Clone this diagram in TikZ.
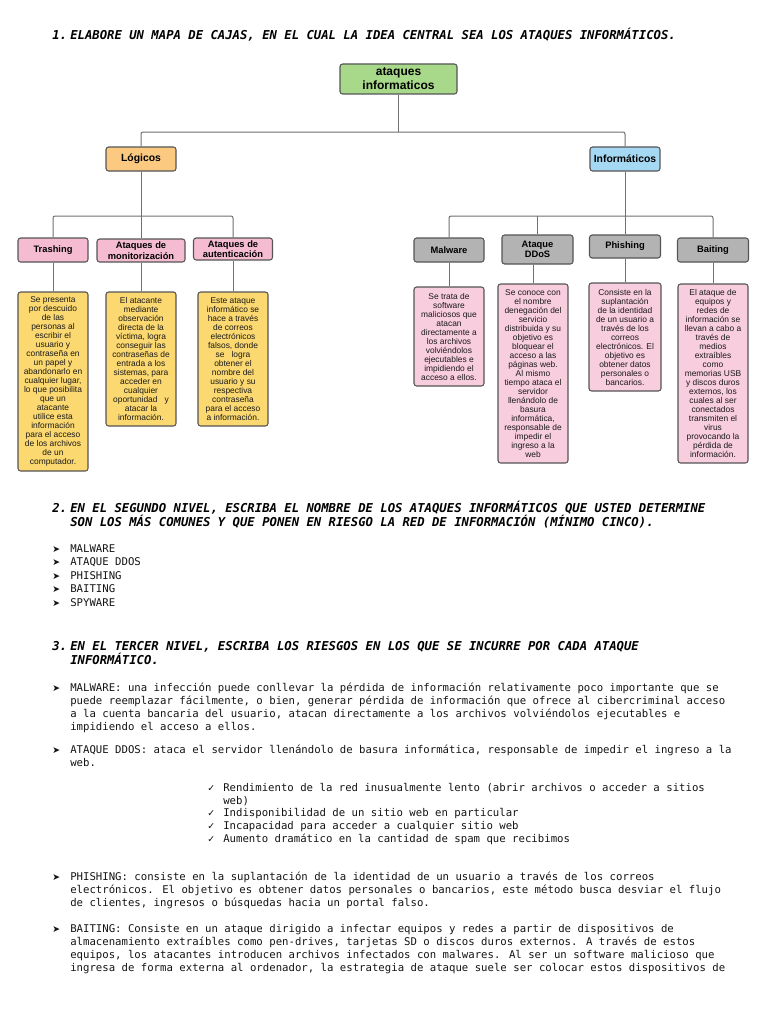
\documentclass[tikz,border=0pt]{standalone}
\usepackage{fontspec}
\newfontfamily\boxfont{Liberation Sans}
\newfontfamily\monofont{DejaVu Sans Mono}
\newfontfamily\symfont{DejaVu Sans}

\definecolor{rootgreen}{HTML}{A8D98A}
\definecolor{logorange}{HTML}{FBC97F}
\definecolor{infoblue}{HTML}{A4D8F3}
\definecolor{lvlpink}{HTML}{F5BBD0}
\definecolor{lvlgray}{HTML}{B3B3B3}
\definecolor{descyellow}{HTML}{FBD870}
\definecolor{descpink}{HTML}{F8CDDD}
\definecolor{boxline}{HTML}{555555}
\definecolor{connline}{HTML}{707070}
\definecolor{desctext}{HTML}{1A1A1A}
\definecolor{bodyink}{HTML}{141414}

\tikzset{
  box/.style={draw=boxline, line width=0.8pt, rounded corners=2pt, inner sep=0pt, align=center, text=black},
  lvlzero/.style={box, fill=rootgreen, font=\boxfont\bfseries\fontsize{9}{10.5}\selectfont},
  lvlone/.style={box, font=\boxfont\bfseries\fontsize{7.8}{9}\selectfont, minimum width=52.5pt, minimum height=18pt},
  lvltwo/.style={box, font=\boxfont\bfseries\fontsize{7}{7.8}\selectfont},
  descbox/.style={box, font=\boxfont\fontsize{6.3}{6.75}\selectfont, text=desctext, minimum width=52.5pt},
  conn/.style={draw=connline, line width=0.75pt, rounded corners=1.5pt},
  headtxt/.style={anchor=base west, inner sep=0pt, font=\monofont\bfseries\itshape\fontsize{9.2}{11}\selectfont},
  bodytxt/.style={anchor=base west, inner sep=0pt, font=\monofont\fontsize{8}{9.75}\selectfont, text=bodyink},
  bulletmark/.style={anchor=base west, inner sep=0pt, font=\symfont\fontsize{7}{9}\selectfont, text=bodyink},
}

\begin{document}
\begin{tikzpicture}[x=0.75pt, y=-0.75pt]
  \useasboundingbox[fill=white] (0,0) rectangle (768,1024);

  % question 1
  \node[headtxt] (numa) at (52,40) {1.};
  \node[headtxt] (heada) at (70,40) {ELABORE UN MAPA DE CAJAS, EN EL CUAL LA IDEA CENTRAL SEA LOS ATAQUES INFORMÁTICOS.};

  % the box map
  \node[lvlzero, minimum width=87.75pt, minimum height=22.5pt] (root) at (398.5,79) {ataques\\informaticos};
  \node[lvlone, fill=logorange] (logi) at (141,159) {Lógicos};
  \node[lvlone, fill=infoblue] (info) at (625,159) {Informáticos};

  \node[lvltwo, fill=lvlpink, minimum width=52.5pt, minimum height=18pt] (trash) at (53,250) {Trashing};
  \node[lvltwo, fill=lvlpink, minimum width=66pt, minimum height=17.25pt] (moni) at (141,250.5) {Ataques de\\monitorización};
  \node[lvltwo, fill=lvlpink, minimum width=59.25pt, minimum height=16.5pt] (auth) at (233,249) {Ataques de\\autenticación};

  \node[lvltwo, fill=lvlgray, minimum width=52.5pt, minimum height=18pt] (malw) at (449,250) {Malware};
  \node[lvltwo, fill=lvlgray, minimum width=53.25pt, minimum height=21.75pt] (ddos) at (537.5,249.5) {Ataque\\DDoS};
  \node[lvltwo, fill=lvlgray, minimum width=53.25pt, minimum height=17.25pt] (phish) at (625,246.5) {Phishing};
  \node[lvltwo, fill=lvlgray, minimum width=53.25pt, minimum height=18pt] (bait) at (713,250) {Baiting};

  \node[descbox, fill=descyellow, minimum height=134.25pt] (trd) at (53,381.5)
    {Se presenta\\por descuido\\de las\\personas al\\escribir el\\usuario y\\contraseña en\\un papel y\\abandonarlo en\\cualquier lugar,\\lo que posibilita\\que un\\atacante\\utilice esta\\información\\para el acceso\\de los archivos\\de un\\computador.};
  \node[descbox, fill=descyellow, minimum height=100.5pt] (mod) at (141,359)
    {El atacante\\mediante\\observación\\directa de la\\víctima, logra\\conseguir las\\contraseñas de\\entrada a los\\sistemas, para\\acceder en\\cualquier\\oportunidad~~~y\\atacar la\\información.};
  \node[descbox, fill=descyellow, minimum height=100.5pt] (aud) at (233,359)
    {Este ataque\\informático se\\hace a través\\de correos\\electrónicos\\falsos, donde\\se~~~logra\\obtener el\\nombre del\\usuario y su\\respectiva\\contraseña\\para el acceso\\a información.};

  \node[descbox, fill=descpink, minimum height=74.25pt] (mad) at (449,336.5)
    {Se trata de\\software\\maliciosos que\\atacan\\directamente a\\los archivos\\volviéndolos\\ejecutables e\\impidiendo el\\acceso a ellos.};
  \node[descbox, fill=descpink, minimum height=134.25pt] (ddd) at (533,373.5)
    {Se conoce con\\el nombre\\denegación del\\servicio\\distribuida y su\\objetivo es\\bloquear el\\acceso a las\\páginas web.\\Al mismo\\tiempo ataca el\\servidor\\llenándolo de\\basura\\informática,\\responsable de\\impedir el\\ingreso a la\\web};
  \node[descbox, fill=descpink, minimum width=54pt, minimum height=81pt] (phd) at (625,337)
    {Consiste en la\\suplantación\\de la identidad\\de un usuario a\\través de los\\correos\\electrónicos. El\\objetivo es\\obtener datos\\personales o\\bancarios.};
  \node[descbox, fill=descpink, minimum height=134.25pt] (bad) at (713,373.5)
    {El ataque de\\equipos y\\redes de\\información se\\llevan a cabo a\\través de\\medios\\extraíbles\\como\\memorias USB\\y discos duros\\externos, los\\cuales al ser\\conectados\\transmiten el\\virus\\provocando la\\pérdida de\\información.};

  % connectors
  \coordinate (topbar) at (398.5,132);
  \coordinate (lbar) at (141,216);
  \coordinate (rbar) at (625,216);
  \draw[conn] (root.south) -- (topbar);
  \draw[conn] (logi.north) |- (topbar) -| (info.north);
  \draw[conn] (trash.north) |- (lbar) -| (auth.north);
  \draw[conn] (logi.south) -- (moni.north);
  \draw[conn] (malw.north) |- (rbar) -| (bait.north);
  \draw[conn] (info.south) -- (phish.north);
  \draw[conn] (ddos.north) -- (ddos.north |- rbar);
  \foreach \a/\b in {trash/trd, moni/mod, auth/aud, malw/mad, phish/phd, bait/bad}
    \draw[conn] (\a.south) -- (\b.north);
  \draw[conn] (ddd.north) -- (ddd.north |- ddos.south);

  % question 2
  \node[headtxt] (numb) at (52,512) {2.};
  \node[headtxt] (headb-1) at (70,512) {EN EL SEGUNDO NIVEL, ESCRIBA EL NOMBRE DE LOS ATAQUES INFORMÁTICOS QUE USTED DETERMINE};
  \node[headtxt] (headb-2) at (70,526) {SON LOS MÁS COMUNES Y QUE PONEN EN RIESGO LA RED DE INFORMACIÓN (MÍNIMO CINCO).};
  \foreach \atk [count=\i] in
    {
        MALWARE, ATAQUE DDOS, PHISHING, BAITING, SPYWARE
    }
    {
        \node[bulletmark] (bul-\i) at (52, 538.5+13.5*\i) {➤};
        \node[bodytxt] (item-\i) at (70, 538.5+13.5*\i) {\atk};
    }

  % question 3
  \node[headtxt] (numc) at (52,650) {3.};
  \node[headtxt] (headc-1) at (70,650) {EN EL TERCER NIVEL, ESCRIBA LOS RIESGOS EN LOS QUE SE INCURRE POR CADA ATAQUE};
  \node[headtxt] (headc-2) at (70,664) {INFORMÁTICO.};

  \node[bulletmark] (bmal) at (52,691) {➤};
  \foreach \ln [count=\i] in
    {
        {MALWARE: una infección puede conllevar la pérdida de información relativamente poco importante que se},
        {puede reemplazar fácilmente, o bien, generar pérdida de información que ofrece al cibercriminal acceso},
        {a la cuenta bancaria del usuario, atacan directamente a los archivos volviéndolos ejecutables e},
        {impidiendo el acceso a ellos.}
    }
    {
        \node[bodytxt] (mal-\i) at (70, 678+13*\i) {\ln};
    }

  \node[bulletmark] (bdd) at (52,753) {➤};
  \node[bodytxt] (dd-1) at (70,753) {ATAQUE DDOS: ataca el servidor llenándolo de basura informática, responsable de impedir el ingreso a la};
  \node[bodytxt] (dd-2) at (70,766) {web.};

  % symptoms of ddos
  \foreach \yy in {791, 816, 829, 842}
    \node[bulletmark] (chk-\yy) at (207,\yy) {✓};
  \node[bodytxt] (sym-1) at (223,791) {Rendimiento de la red inusualmente lento (abrir archivos o acceder a sitios};
  \node[bodytxt] (sym-2) at (223,804) {web)};
  \node[bodytxt] (sym-3) at (223,816) {Indisponibilidad de un sitio web en particular};
  \node[bodytxt] (sym-4) at (223,829) {Incapacidad para acceder a cualquier sitio web};
  \node[bodytxt] (sym-5) at (223,842) {Aumento dramático en la cantidad de spam que recibimos};

  \node[bulletmark] (bph) at (52,880) {➤};
  \foreach \ln [count=\i] in
    {
        {PHISHING: consiste en la suplantación de la identidad de un usuario a través de los correos},
        {electrónicos. El objetivo es obtener datos personales o bancarios, este método busca desviar el flujo},
        {de clientes, ingresos o búsquedas hacia un portal falso.}
    }
    {
        \node[bodytxt] (ph-\i) at (70, 867+13*\i) {\ln};
    }

  \node[bulletmark] (bba) at (52,932) {➤};
  \foreach \ln [count=\i] in
    {
        {BAITING: Consiste en un ataque dirigido a infectar equipos y redes a partir de dispositivos de},
        {almacenamiento extraíbles como pen-drives, tarjetas SD o discos duros externos. A través de estos},
        {equipos, los atacantes introducen archivos infectados con malwares. Al ser un software malicioso que},
        {ingresa de forma externa al ordenador, la estrategia de ataque suele ser colocar estos dispositivos de}
    }
    {
        \node[bodytxt] (ba-\i) at (70, 919+13*\i) {\ln};
    }

\end{tikzpicture}
\end{document}
